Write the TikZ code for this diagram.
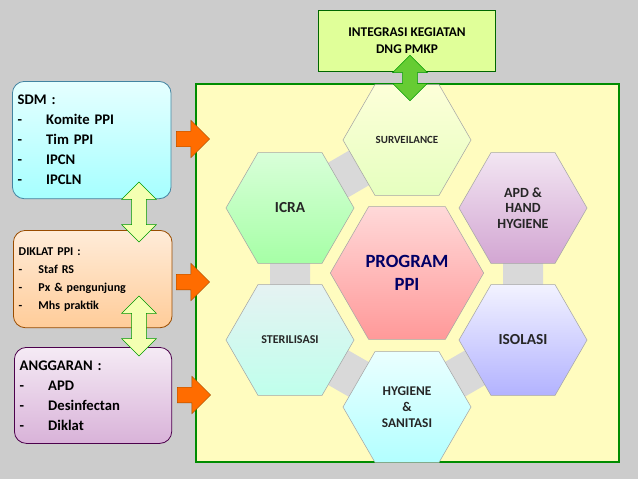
\documentclass[tikz,border=0pt]{standalone}
\usepackage{fontspec}
\setmainfont{Carlito}
\usetikzlibrary{shapes.geometric,shapes.arrows}
\begin{document}
\begin{tikzpicture}[x=0.75pt,y=-0.75pt,
  hex/.style={regular polygon,regular polygon sides=6,shape border rotate=0,draw=gray!70,minimum size=#1,inner sep=0pt,align=center,font=\bfseries,text=black!85},
  lbox/.style={rounded corners=9pt,draw=#1!60!black,line width=0.6pt,align=left,anchor=north west,inner sep=4pt,font=\bfseries},
  oarr/.style={single arrow,fill=orange!85!red,draw=orange!60!black,line width=0.3pt,minimum height=25pt,minimum width=28pt,single arrow head extend=3pt,inner sep=2pt},
  garr/.style={double arrow,shape border rotate=90,draw=#1!60!black,line width=0.4pt,minimum width=26pt,double arrow head extend=3pt,inner sep=2pt},
  band/.style={line width=30pt,draw=black!15}]
\fill[gray!40] (0,0) rectangle (638,479);
\useasboundingbox (0,0) rectangle (638,479);
\draw[fill=yellow!25,draw=green!55!black,line width=2pt] (196,84) rectangle (619,462);
% bands
\draw[band] (290,208)--(407,140) (290,208)--(290,340) (290,340)--(407,407) (407,407)--(523,340) (523,340)--(523,208);
\node[hex=96,top color=green!5!yellow!15,bottom color=green!40!yellow!25,font=\bfseries\fontsize{8.2}{9}\selectfont] (surv) at (407,140) {SURVEILANCE};
\node[hex=96,top color=green!15,bottom color=green!35,font=\bfseries\fontsize{11.5}{13}\selectfont] (icra) at (290,208) {ICRA};
\node[hex=96,top color=violet!10,bottom color=violet!35,font=\bfseries\fontsize{10.5}{11.5}\selectfont] (apd) at (523,208) {APD \&\\HAND\\HYGIENE};
\node[hex=115,top color=red!15,bottom color=red!40,text=blue!40!black,font=\bfseries\fontsize{14}{17}\selectfont] (prog) at (407,273) {PROGRAM\\PPI};
\node[hex=96,top color=teal!10,bottom color=green!30!cyan!25,font=\bfseries\fontsize{9}{10}\selectfont] (ster) at (290,340) {STERILISASI};
\node[hex=96,top color=blue!5,bottom color=blue!30,font=\bfseries\fontsize{11.5}{13}\selectfont] (iso) at (523,340) {ISOLASI};
\node[hex=96,top color=cyan!8,bottom color=cyan!30,font=\bfseries\fontsize{10}{12}\selectfont] (hyg) at (407,407) {HYGIENE\\\&\\SANITASI};
% top box
\node[draw=green!40!black,fill=green!30!yellow!40,minimum width=133pt,minimum height=46pt,align=center,font=\bfseries\fontsize{10}{13}\selectfont] (integ) at (407,41) {INTEGRASI KEGIATAN\\DNG PMKP};
\node[garr=green,fill=green!50!olive!80,minimum height=34pt] (ga0) at (410,78) {};
% left boxes
\node[lbox=cyan,top color=cyan!10,bottom color=cyan!35,text width=111pt,minimum height=88pt,font=\bfseries\fontsize{11}{15}\selectfont] (sdm) at (12,81) {SDM :\\-\hspace{18pt}Komite PPI\\-\hspace{18pt}Tim PPI\\-\hspace{18pt}IPCN\\-\hspace{18pt}IPCLN};
\node[lbox=orange,top color=orange!15,bottom color=orange!40,text width=111pt,minimum height=73pt,font=\bfseries\fontsize{9}{13.5}\selectfont] (dik) at (13,230) {DIKLAT PPI :\\-\hspace{12pt}Staf RS\\-\hspace{12pt}Px \& pengunjung\\-\hspace{12pt}Mhs praktik};
\node[lbox=violet,top color=violet!8,bottom color=violet!30,text width=110pt,minimum height=72pt,font=\bfseries\fontsize{11}{15}\selectfont] (ang) at (14,347) {ANGGARAN :\\-\hspace{18pt}APD\\-\hspace{18pt}Desinfectan\\-\hspace{18pt}Diklat};
\node[oarr] (o1) at (189,139) {};
\node[oarr] (o2) at (189,282) {};
\node[oarr] (o3) at (190,395) {};
\node[garr=green,fill=green!15!yellow!30,minimum height=45pt] (g1) at (139,212) {};
\node[garr=green,fill=green!15!yellow!30,minimum height=45pt] (g2) at (139,326) {};
\end{tikzpicture}
\end{document}
